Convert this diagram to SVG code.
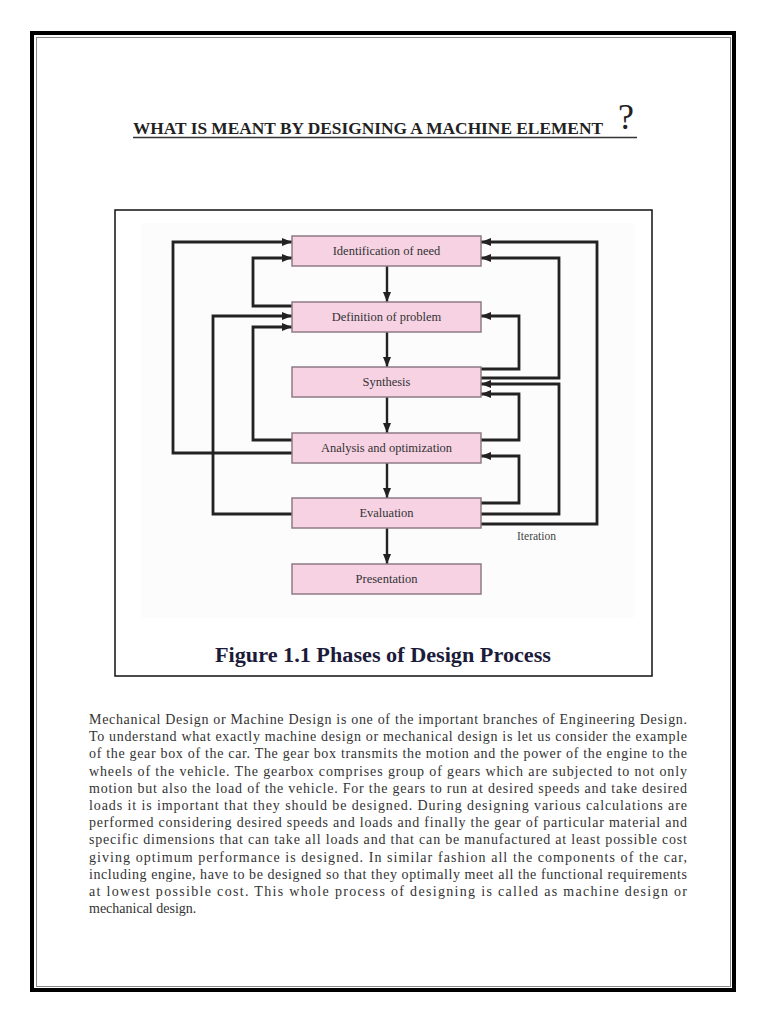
<svg xmlns="http://www.w3.org/2000/svg" width="768" height="1024" viewBox="0 0 768 1024">
<style>
.box{fill:#f6d2e3;stroke:#8e7a86;stroke-width:1.5}
.lbl{font-family:"Liberation Serif","Times New Roman",serif;font-size:12.5px;fill:#333;text-anchor:middle}
.con{fill:none;stroke:#222;stroke-width:2.8}
.dn{fill:none;stroke:#222;stroke-width:2.4}
.para{font-family:"Liberation Serif","Times New Roman",serif;font-size:14px;fill:#333}
</style>
<defs>
<marker id="ah" markerUnits="userSpaceOnUse" markerWidth="12" markerHeight="10" refX="10" refY="4" orient="auto">
<path d="M0,0 L10,4 L0,8 Z" fill="#222"/>
</marker>
</defs>
<rect x="0" y="0" width="768" height="1024" fill="#fff"/>
<rect x="32" y="33" width="702" height="957" fill="none" stroke="#000" stroke-width="4"/>
<rect x="36.5" y="37.5" width="694" height="949" fill="none" stroke="#8a8a8a" stroke-width="1"/>

<g id="title">
<text x="133" y="134" font-family="'Liberation Serif','Times New Roman',serif" font-weight="bold" font-size="16.5" fill="#222" textLength="470" lengthAdjust="spacingAndGlyphs">WHAT IS MEANT BY DESIGNING A MACHINE ELEMENT</text>
<text x="618" y="129" font-family="'Liberation Serif','Times New Roman',serif" font-size="36" fill="#222">?</text>
<line x1="133" y1="137.5" x2="637" y2="137.5" stroke="#333" stroke-width="1.5"/>
</g>

<rect x="115" y="210" width="537" height="466" fill="#fff" stroke="#111" stroke-width="1.5"/>
<rect x="141" y="223" width="493" height="395" fill="#fcfcfc"/>

<g id="connectors">
<path class="con" d="M292,453 H173 V242 H292" marker-end="url(#ah)"/>
<path class="con" d="M292,306 H253 V258 H292" marker-end="url(#ah)"/>
<path class="con" d="M292,514 H213 V316 H292" marker-end="url(#ah)"/>
<path class="con" d="M292,440 H253 V327 H292" marker-end="url(#ah)"/>
<path class="con" d="M481,524 H597 V242 H481" marker-end="url(#ah)"/>
<path class="con" d="M481,378 H559 V258 H481" marker-end="url(#ah)"/>
<path class="con" d="M481,369 H519 V316 H481" marker-end="url(#ah)"/>
<path class="con" d="M481,514 H559 V384 H481" marker-end="url(#ah)"/>
<path class="con" d="M481,440 H519 V394 H481" marker-end="url(#ah)"/>
<path class="con" d="M481,503 H519 V456 H481" marker-end="url(#ah)"/>
<path class="dn" d="M387,266 V302" marker-end="url(#ah)"/>
<path class="dn" d="M387,332 V367" marker-end="url(#ah)"/>
<path class="dn" d="M387,397 V433" marker-end="url(#ah)"/>
<path class="dn" d="M387,463 V498" marker-end="url(#ah)"/>
<path class="dn" d="M387,528 V564" marker-end="url(#ah)"/>
</g>

<g id="n1"><rect class="box" x="292" y="236" width="189" height="30"/><text class="lbl" x="386.5" y="255">Identification of need</text></g>
<g id="n2"><rect class="box" x="292" y="302" width="189" height="30"/><text class="lbl" x="386.5" y="321">Definition of problem</text></g>
<g id="n3"><rect class="box" x="292" y="367" width="189" height="30"/><text class="lbl" x="386.5" y="386">Synthesis</text></g>
<g id="n4"><rect class="box" x="292" y="433" width="189" height="30"/><text class="lbl" x="386.5" y="452">Analysis and optimization</text></g>
<g id="n5"><rect class="box" x="292" y="498" width="189" height="30"/><text class="lbl" x="386.5" y="517">Evaluation</text></g>
<g id="n6"><rect class="box" x="292" y="564" width="189" height="30"/><text class="lbl" x="386.5" y="583">Presentation</text></g>

<text x="517" y="540" font-family="'Liberation Serif','Times New Roman',serif" font-size="11.5" fill="#444">Iteration</text>
<text x="215" y="662" font-family="'Liberation Serif','Times New Roman',serif" font-weight="bold" font-size="20" fill="#1c1c3a" textLength="336" lengthAdjust="spacingAndGlyphs">Figure 1.1 Phases of Design Process</text>

<g id="paragraph" class="para">
<text x="89" y="724" textLength="598" lengthAdjust="spacing">Mechanical Design or Machine Design is one of the important branches of Engineering Design.</text>
<text x="89" y="741.2" textLength="598" lengthAdjust="spacing">To understand what exactly machine design or mechanical design is let us consider the example</text>
<text x="89" y="758.4" textLength="598" lengthAdjust="spacing">of the gear box of the car. The gear box transmits the motion and the power of the engine to the</text>
<text x="89" y="775.6" textLength="598" lengthAdjust="spacing">wheels of the vehicle. The gearbox comprises group of gears which are subjected to not only</text>
<text x="89" y="792.8" textLength="598" lengthAdjust="spacing">motion but also the load of the vehicle. For the gears to run at desired speeds and take desired</text>
<text x="89" y="810" textLength="598" lengthAdjust="spacing">loads it is important that they should be designed. During designing various calculations are</text>
<text x="89" y="827.2" textLength="598" lengthAdjust="spacing">performed considering desired speeds and loads and finally the gear of particular material and</text>
<text x="89" y="844.4" textLength="598" lengthAdjust="spacing">specific dimensions that can take all loads and that can be manufactured at least possible cost</text>
<text x="89" y="861.6" textLength="598" lengthAdjust="spacing">giving optimum performance is designed. In similar fashion all the components of the car,</text>
<text x="89" y="878.8" textLength="598" lengthAdjust="spacing">including engine, have to be designed so that they optimally meet all the functional requirements</text>
<text x="89" y="896" textLength="598" lengthAdjust="spacing">at lowest possible cost. This whole process of designing is called as machine design or</text>
<text x="89" y="913.2">mechanical design.</text>
</g>
</svg>
